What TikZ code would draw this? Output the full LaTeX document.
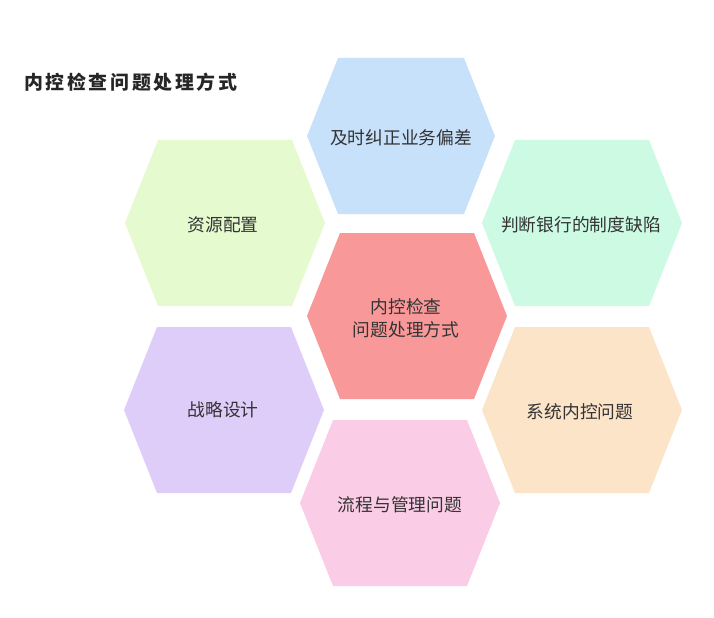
\documentclass[tikz,border=0pt]{standalone}
\usepackage{fontspec}
\newfontfamily\cjk{Noto Sans CJK SC}
\definecolor{hexblue}{HTML}{C8E1FA}
\definecolor{hexred}{HTML}{F99898}
\definecolor{hexgreen}{HTML}{E5FACF}
\definecolor{hexmint}{HTML}{CCFAE3}
\definecolor{hexorange}{HTML}{FCE4C9}
\definecolor{hexpurple}{HTML}{DFCDF9}
\definecolor{hexpink}{HTML}{FACCE6}
\definecolor{labelgray}{HTML}{333333}
\newcommand{\hexpath}{(-100,0) -- (-67,-83) -- (67,-83) -- (100,0) -- (67,83) -- (-67,83) -- cycle}
\begin{document}
\begin{tikzpicture}[x=1bp,y=-1bp,
    celltext/.style={font=\cjk\fontsize{17.8}{23}\selectfont, text=labelgray, align=center, inner sep=0pt},
    titletext/.style={font=\cjk\bfseries\fontsize{19}{22}\selectfont\addfontfeature{LetterSpace=14}, text=black!85, anchor=west, inner sep=0pt}]
      \useasboundingbox (0,0) rectangle (714,618);
      \foreach \cx/\cy/\col/\sc in {401/136/hexblue/0.94, 407/316/hexred/1,
          225/223/hexgreen/1, 582/223/hexmint/1, 224/410/hexpurple/1,
          582/410/hexorange/1, 400/503/hexpink/1}
        \fill[\col, shift={(\cx,\cy)}, scale=\sc] \hexpath;
      \path (24,82) node[titletext] (title) {内控检查问题处理方式};
      \path (401,138) node[celltext] (correct) {及时纠正业务偏差};
      \path (406,318) node[celltext] (core) {内控检查\\问题处理方式};
      \path (223,225) node[celltext] (resource) {资源配置};
      \path (581,225) node[celltext] (defect) {判断银行的制度缺陷};
      \path (223,410) node[celltext] (strategy) {战略设计};
      \path (580,412) node[celltext] (system) {系统内控问题};
      \path (400,505) node[celltext] (process) {流程与管理问题};
\end{tikzpicture}
\end{document}
